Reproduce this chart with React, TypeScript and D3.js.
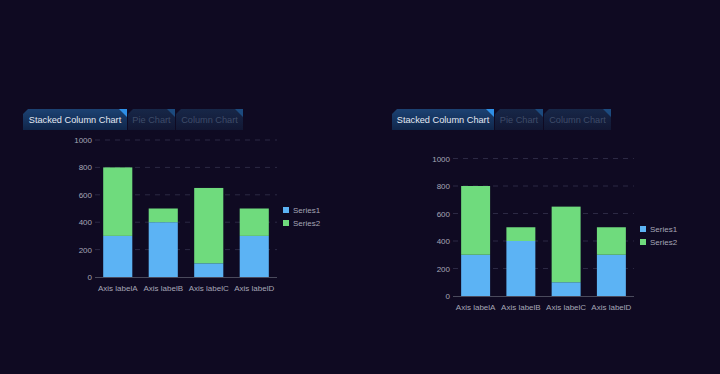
import React from 'react';
import * as d3 from 'd3';

const categories = ['Axis labelA', 'Axis labelB', 'Axis labelC', 'Axis labelD'];
const series1 = [300, 400, 100, 300];
const series2 = [500, 100, 550, 200];
const seriesNames = ['Series1', 'Series2'];
const yTicks = [0, 200, 400, 600, 800, 1000];
const tabLabels = ['Stacked Column Chart', 'Pie Chart', 'Column Chart'];

const W = 720;
const H = 374;
const BG = '#0f0a22';
const COLORS = ['#5cb3f4', '#6fdb7d'];
const FONT = '"Liberation Sans", Arial, sans-serif';
const LABEL = '#a6a6b6';

interface PanelProps {
  tabX: number[]; // left edges of the three tabs + end
  tabY: number;
  x0: number;
  x1: number;
  yTop: number;
  yBottom: number;
  legendX: number;
  legendY: number;
}

const Panel: React.FC<PanelProps> = ({ tabX, tabY, x0, x1, yTop, yBottom, legendX, legendY }) => {
  const x = d3.scaleBand<string>().domain(categories).range([x0, x1]).paddingInner(0.36).paddingOuter(0.18);
  const y = d3.scaleLinear().domain([0, 1000]).range([yBottom, yTop]);

  const rows = categories.map((c, i) => ({ cat: c, s1: series1[i], s2: series2[i] }));
  const layers = d3.stack<{ cat: string; s1: number; s2: number }>().keys(['s1', 's2'])(rows);

  const tabH = 21;
  return (
    <g>
      {tabLabels.map((t, i) => {
        const l = tabX[i];
        const r = tabX[i + 1] - 1;
        const active = i === 0;
        const bev = 5;
        const path = `M${l},${tabY + tabH} L${l},${tabY + bev} L${l + bev},${tabY} L${r},${tabY} L${r},${tabY + tabH} Z`;
        return (
          <g key={t}>
            <path d={path} fill={active ? 'url(#tabActive)' : 'url(#tabIdle)'} />
            <path d={`M${r - 8},${tabY} L${r},${tabY} L${r},${tabY + 8} Z`} fill={active ? '#2e8fe6' : '#1c4a7e'} />
            <text
              x={(l + r) / 2}
              y={tabY + 14}
              textAnchor="middle"
              fontSize={9.2}
              fontFamily={FONT}
              fill={active ? '#e4e8f2' : '#3f4c69'}
            >
              {t}
            </text>
          </g>
        );
      })}

      {yTicks.map(v => (
        <g key={v}>
          {v > 0 && (
            <line x1={x0} x2={x1} y1={y(v)} y2={y(v)} stroke="#2c2944" strokeDasharray="5,5" strokeWidth={1} />
          )}
          <text x={x0 - 3} y={y(v) + 3} textAnchor="end" fontSize={8} fontFamily={FONT} fill={LABEL}>
            {v}
          </text>
        </g>
      ))}

      {layers.map((layer, li) =>
        layer.map(d => (
          <rect
            key={`${li}-${d.data.cat}`}
            x={x(d.data.cat)!}
            y={y(d[1])}
            width={x.bandwidth()}
            height={y(d[0]) - y(d[1])}
            fill={COLORS[li]}
          />
        ))
      )}

      <line x1={x0} x2={x1} y1={yBottom + 0.5} y2={yBottom + 0.5} stroke="#4a4a5c" strokeWidth={1} />
      {categories.map(c => (
        <text
          key={c}
          x={x(c)! + x.bandwidth() / 2}
          y={yBottom + 14}
          textAnchor="middle"
          fontSize={8}
          fontFamily={FONT}
          fill={LABEL}
        >
          {c}
        </text>
      ))}

      {seriesNames.map((s, i) => (
        <g key={s} transform={`translate(${legendX},${legendY + i * 13})`}>
          <rect x={0} y={0} width={6} height={6} fill={COLORS[i]} />
          <text x={10} y={6} fontSize={8} fontFamily={FONT} fill={LABEL}>
            {s}
          </text>
        </g>
      ))}
    </g>
  );
};

export default function App() {
  return (
    <svg
      width={W}
      height={H}
      style={{ position: 'absolute', left: 0, top: 0, display: 'block', background: BG }}
    >
      <defs>
        <linearGradient id="tabActive" x1="0" y1="0" x2="0" y2="1">
          <stop offset="0%" stopColor="#1c4273" />
          <stop offset="100%" stopColor="#10264a" />
        </linearGradient>
        <linearGradient id="tabIdle" x1="0" y1="0" x2="0" y2="1">
          <stop offset="0%" stopColor="#172748" />
          <stop offset="100%" stopColor="#121733" />
        </linearGradient>
      </defs>
      <rect width={W} height={H} fill={BG} />
      <Panel
        tabX={[23, 128, 176, 244]}
        tabY={109}
        x0={95}
        x1={277}
        yTop={140}
        yBottom={277}
        legendX={283}
        legendY={207}
      />
      <Panel
        tabX={[392, 495, 544, 612]}
        tabY={109}
        x0={453}
        x1={634}
        yTop={158.5}
        yBottom={296}
        legendX={640}
        legendY={226}
      />
    </svg>
  );
}
